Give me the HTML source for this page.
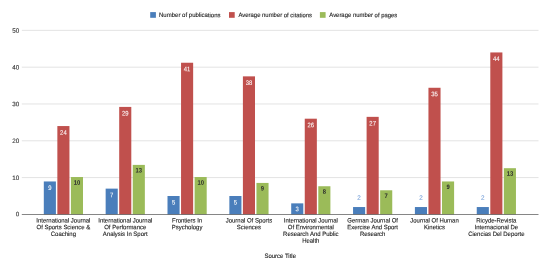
<!DOCTYPE html>
<html><head><meta charset="utf-8"><title>Chart</title>
<style>
html,body{margin:0;padding:0;background:#fff;}
svg{display:block;font-family:"Liberation Sans",Arial,sans-serif;font-size:6.3px;}
text{stroke-width:0.12px;}
</style></head><body>
<svg width="550" height="266" viewBox="0 0 550 266">
<rect x="0" y="0" width="550" height="266" fill="#ffffff"/>

<rect x="21.8" y="177.09" width="516.70" height="1" fill="#e3e3e3"/>
<rect x="21.8" y="140.28" width="516.70" height="1" fill="#e3e3e3"/>
<rect x="21.8" y="103.47" width="516.70" height="1" fill="#e3e3e3"/>
<rect x="21.8" y="66.66" width="516.70" height="1" fill="#e3e3e3"/>
<rect x="21.8" y="29.85" width="516.70" height="1" fill="#e3e3e3"/>
<text transform="translate(19.20,216.30) scale(1,1) rotate(0.03)" text-anchor="end" fill="#333" stroke="#333" >0</text>
<text transform="translate(19.20,179.89) scale(1,1) rotate(0.03)" text-anchor="end" fill="#333" stroke="#333" >10</text>
<text transform="translate(19.20,143.08) scale(1,1) rotate(0.03)" text-anchor="end" fill="#333" stroke="#333" >20</text>
<text transform="translate(19.20,106.27) scale(1,1) rotate(0.03)" text-anchor="end" fill="#333" stroke="#333" >30</text>
<text transform="translate(19.20,69.46) scale(1,1) rotate(0.03)" text-anchor="end" fill="#333" stroke="#333" >40</text>
<text transform="translate(19.20,32.65) scale(1,1) rotate(0.03)" text-anchor="end" fill="#333" stroke="#333" >50</text>
<rect x="43.80" y="181.46" width="12.1" height="32.94" fill="#4a7ebb"/>
<rect x="57.35" y="126.06" width="12.1" height="88.34" fill="#c0504d"/>
<rect x="70.90" y="177.04" width="12.1" height="37.36" fill="#9bbb59"/>
<rect x="105.65" y="188.63" width="12.1" height="25.77" fill="#4a7ebb"/>
<rect x="119.20" y="106.91" width="12.1" height="107.49" fill="#c0504d"/>
<rect x="132.75" y="164.89" width="12.1" height="49.51" fill="#9bbb59"/>
<rect x="167.50" y="196.00" width="12.1" height="18.41" fill="#4a7ebb"/>
<rect x="181.05" y="62.74" width="12.1" height="151.66" fill="#c0504d"/>
<rect x="194.60" y="177.04" width="12.1" height="37.36" fill="#9bbb59"/>
<rect x="229.35" y="196.00" width="12.1" height="18.41" fill="#4a7ebb"/>
<rect x="242.90" y="76.36" width="12.1" height="138.04" fill="#c0504d"/>
<rect x="256.45" y="182.93" width="12.1" height="31.47" fill="#9bbb59"/>
<rect x="291.20" y="203.36" width="12.1" height="11.04" fill="#4a7ebb"/>
<rect x="304.75" y="118.69" width="12.1" height="95.71" fill="#c0504d"/>
<rect x="318.30" y="186.24" width="12.1" height="28.16" fill="#9bbb59"/>
<rect x="353.05" y="207.04" width="12.1" height="7.36" fill="#4a7ebb"/>
<rect x="366.60" y="116.85" width="12.1" height="97.55" fill="#c0504d"/>
<rect x="380.15" y="190.29" width="12.1" height="24.11" fill="#9bbb59"/>
<rect x="414.90" y="207.04" width="12.1" height="7.36" fill="#4a7ebb"/>
<rect x="428.45" y="87.77" width="12.1" height="126.63" fill="#c0504d"/>
<rect x="442.00" y="181.46" width="12.1" height="32.94" fill="#9bbb59"/>
<rect x="476.75" y="207.04" width="12.1" height="7.36" fill="#4a7ebb"/>
<rect x="490.30" y="52.44" width="12.1" height="161.96" fill="#c0504d"/>
<rect x="503.85" y="168.20" width="12.1" height="46.20" fill="#9bbb59"/>
<rect x="21.8" y="214.00" width="516.70" height="0.65" fill="#444"/>
<text transform="translate(49.85,190.06) scale(0.9,1) rotate(0.03)" text-anchor="middle" fill="#fff" stroke="#fff" style="stroke-width:0.08px;font-size:6.6px">9</text>
<text transform="translate(63.40,134.66) scale(0.9,1) rotate(0.03)" text-anchor="middle" fill="#fff" stroke="#fff" style="stroke-width:0.08px;font-size:6.6px">24</text>
<text transform="translate(76.95,184.64) scale(0.9,1) rotate(0.03)" text-anchor="middle" fill="#2b2b2b" stroke="#2b2b2b" style="stroke-width:0;font-weight:bold;font-size:6.5px">10</text>
<text transform="translate(111.70,197.23) scale(0.9,1) rotate(0.03)" text-anchor="middle" fill="#fff" stroke="#fff" style="stroke-width:0.08px;font-size:6.6px">7</text>
<text transform="translate(125.25,115.51) scale(0.9,1) rotate(0.03)" text-anchor="middle" fill="#fff" stroke="#fff" style="stroke-width:0.08px;font-size:6.6px">29</text>
<text transform="translate(138.80,172.49) scale(0.9,1) rotate(0.03)" text-anchor="middle" fill="#2b2b2b" stroke="#2b2b2b" style="stroke-width:0;font-weight:bold;font-size:6.5px">13</text>
<text transform="translate(173.55,204.59) scale(0.9,1) rotate(0.03)" text-anchor="middle" fill="#fff" stroke="#fff" style="stroke-width:0.08px;font-size:6.6px">5</text>
<text transform="translate(187.10,71.34) scale(0.9,1) rotate(0.03)" text-anchor="middle" fill="#fff" stroke="#fff" style="stroke-width:0.08px;font-size:6.6px">41</text>
<text transform="translate(200.65,184.64) scale(0.9,1) rotate(0.03)" text-anchor="middle" fill="#2b2b2b" stroke="#2b2b2b" style="stroke-width:0;font-weight:bold;font-size:6.5px">10</text>
<text transform="translate(235.40,204.59) scale(0.9,1) rotate(0.03)" text-anchor="middle" fill="#fff" stroke="#fff" style="stroke-width:0.08px;font-size:6.6px">5</text>
<text transform="translate(248.95,84.96) scale(0.9,1) rotate(0.03)" text-anchor="middle" fill="#fff" stroke="#fff" style="stroke-width:0.08px;font-size:6.6px">38</text>
<text transform="translate(262.50,190.53) scale(0.9,1) rotate(0.03)" text-anchor="middle" fill="#2b2b2b" stroke="#2b2b2b" style="stroke-width:0;font-weight:bold;font-size:6.5px">9</text>
<text transform="translate(297.25,211.16) scale(0.9,1) rotate(0.03)" text-anchor="middle" fill="#fff" stroke="#fff" style="stroke-width:0.08px;font-size:6.6px">3</text>
<text transform="translate(310.80,127.29) scale(0.9,1) rotate(0.03)" text-anchor="middle" fill="#fff" stroke="#fff" style="stroke-width:0.08px;font-size:6.6px">26</text>
<text transform="translate(324.35,193.84) scale(0.9,1) rotate(0.03)" text-anchor="middle" fill="#2b2b2b" stroke="#2b2b2b" style="stroke-width:0;font-weight:bold;font-size:6.5px">8</text>
<text transform="translate(359.10,199.84) scale(1,1) rotate(0.03)" text-anchor="middle" fill="#6f9bd6" stroke="#6f9bd6" >2</text>
<text transform="translate(372.65,125.45) scale(0.9,1) rotate(0.03)" text-anchor="middle" fill="#fff" stroke="#fff" style="stroke-width:0.08px;font-size:6.6px">27</text>
<text transform="translate(386.20,197.89) scale(0.9,1) rotate(0.03)" text-anchor="middle" fill="#2b2b2b" stroke="#2b2b2b" style="stroke-width:0;font-weight:bold;font-size:6.5px">7</text>
<text transform="translate(420.95,199.84) scale(1,1) rotate(0.03)" text-anchor="middle" fill="#6f9bd6" stroke="#6f9bd6" >2</text>
<text transform="translate(434.50,96.37) scale(0.9,1) rotate(0.03)" text-anchor="middle" fill="#fff" stroke="#fff" style="stroke-width:0.08px;font-size:6.6px">35</text>
<text transform="translate(448.05,189.06) scale(0.9,1) rotate(0.03)" text-anchor="middle" fill="#2b2b2b" stroke="#2b2b2b" style="stroke-width:0;font-weight:bold;font-size:6.5px">9</text>
<text transform="translate(482.80,199.84) scale(1,1) rotate(0.03)" text-anchor="middle" fill="#6f9bd6" stroke="#6f9bd6" >2</text>
<text transform="translate(496.35,61.04) scale(0.9,1) rotate(0.03)" text-anchor="middle" fill="#fff" stroke="#fff" style="stroke-width:0.08px;font-size:6.6px">44</text>
<text transform="translate(509.90,175.80) scale(0.9,1) rotate(0.03)" text-anchor="middle" fill="#2b2b2b" stroke="#2b2b2b" style="stroke-width:0;font-weight:bold;font-size:6.5px">13</text>
<text transform="translate(63.40,222.60) scale(0.95,1) rotate(0.03)" text-anchor="middle" fill="#222" stroke="#222" >International Journal</text>
<text transform="translate(63.40,229.33) scale(0.95,1) rotate(0.03)" text-anchor="middle" fill="#222" stroke="#222" >Of Sports Science &amp;</text>
<text transform="translate(63.40,236.06) scale(0.95,1) rotate(0.03)" text-anchor="middle" fill="#222" stroke="#222" >Coaching</text>
<text transform="translate(125.25,222.60) scale(0.95,1) rotate(0.03)" text-anchor="middle" fill="#222" stroke="#222" >International Journal</text>
<text transform="translate(125.25,229.33) scale(0.95,1) rotate(0.03)" text-anchor="middle" fill="#222" stroke="#222" >Of Performance</text>
<text transform="translate(125.25,236.06) scale(0.95,1) rotate(0.03)" text-anchor="middle" fill="#222" stroke="#222" >Analysis In Sport</text>
<text transform="translate(187.10,222.60) scale(0.95,1) rotate(0.03)" text-anchor="middle" fill="#222" stroke="#222" >Frontiers In</text>
<text transform="translate(187.10,229.33) scale(0.95,1) rotate(0.03)" text-anchor="middle" fill="#222" stroke="#222" >Psychology</text>
<text transform="translate(248.95,222.60) scale(0.95,1) rotate(0.03)" text-anchor="middle" fill="#222" stroke="#222" >Journal Of Sports</text>
<text transform="translate(248.95,229.33) scale(0.95,1) rotate(0.03)" text-anchor="middle" fill="#222" stroke="#222" >Sciences</text>
<text transform="translate(310.80,222.60) scale(0.95,1) rotate(0.03)" text-anchor="middle" fill="#222" stroke="#222" >International Journal</text>
<text transform="translate(310.80,229.33) scale(0.95,1) rotate(0.03)" text-anchor="middle" fill="#222" stroke="#222" >Of Environmental</text>
<text transform="translate(310.80,236.06) scale(0.95,1) rotate(0.03)" text-anchor="middle" fill="#222" stroke="#222" >Research And Public</text>
<text transform="translate(310.80,242.79) scale(0.95,1) rotate(0.03)" text-anchor="middle" fill="#222" stroke="#222" >Health</text>
<text transform="translate(372.65,222.60) scale(0.95,1) rotate(0.03)" text-anchor="middle" fill="#222" stroke="#222" >German Journal Of</text>
<text transform="translate(372.65,229.33) scale(0.95,1) rotate(0.03)" text-anchor="middle" fill="#222" stroke="#222" >Exercise And Sport</text>
<text transform="translate(372.65,236.06) scale(0.95,1) rotate(0.03)" text-anchor="middle" fill="#222" stroke="#222" >Research</text>
<text transform="translate(434.50,222.60) scale(0.95,1) rotate(0.03)" text-anchor="middle" fill="#222" stroke="#222" >Journal Of Human</text>
<text transform="translate(434.50,229.33) scale(0.95,1) rotate(0.03)" text-anchor="middle" fill="#222" stroke="#222" >Kinetics</text>
<text transform="translate(496.35,222.60) scale(0.95,1) rotate(0.03)" text-anchor="middle" fill="#222" stroke="#222" >Ricyde-Revista</text>
<text transform="translate(496.35,229.33) scale(0.95,1) rotate(0.03)" text-anchor="middle" fill="#222" stroke="#222" >Internacional De</text>
<text transform="translate(496.35,236.06) scale(0.95,1) rotate(0.03)" text-anchor="middle" fill="#222" stroke="#222" >Ciencias Del Deporte</text>
<text transform="translate(280.25,258.00) scale(0.95,1) rotate(0.03)" text-anchor="middle" fill="#222" stroke="#222" >Source Title</text>
<rect x="150.2" y="12.1" width="5.7" height="5.7" fill="#4a7ebb"/>
<text transform="translate(159.00,17.10) scale(0.9575,1) rotate(0.03)" text-anchor="start" fill="#222" stroke="#222" >Number of publications</text>
<rect x="229.0" y="12.1" width="5.7" height="5.7" fill="#c0504d"/>
<text transform="translate(238.50,17.10) scale(0.94,1) rotate(0.03)" text-anchor="start" fill="#222" stroke="#222" >Average number of citations</text>
<rect x="319.9" y="12.1" width="5.7" height="5.7" fill="#9bbb59"/>
<text transform="translate(329.30,17.10) scale(0.94,1) rotate(0.03)" text-anchor="start" fill="#222" stroke="#222" >Average number of pages</text>
</svg></body></html>
